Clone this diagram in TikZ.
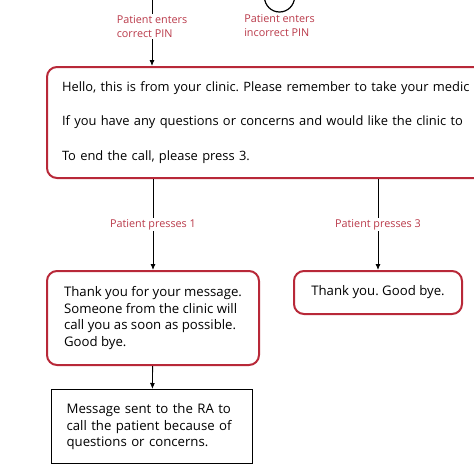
\documentclass[tikz,border=0pt]{standalone}
\usepackage{fontspec}
\setmainfont{Open Sans}
\frenchspacing
\usetikzlibrary{arrows.meta}
\definecolor{clinicred}{RGB}{184,40,56}
\definecolor{labelred}{RGB}{186,58,74}

\begin{document}
\begin{tikzpicture}[x=1pt, y=-1pt,
    msgbox/.style={draw=clinicred, line width=2pt, rounded corners=10pt, fill=white,
      inner xsep=15pt, inner ysep=0pt, font=\fontsize{13.2}{16.7}\selectfont},
    ratask/.style={draw=black, line width=1.2pt, fill=white, inner xsep=15pt, inner ysep=0pt,
      font=\fontsize{13.2}{16.5}\selectfont},
    choice/.style={fill=white, text=labelred, inner sep=1.5pt, align=left,
      font=\fontsize{10.8}{14}\selectfont},
    flow/.style={-{Latex[length=6pt,width=5pt]}, line width=0.9pt}]
  \useasboundingbox (0,0) rectangle (474,474);
  \clip (0,0) rectangle (474,474);

  % PIN check
  \coordinate (entry) at (152,-5);
  \node[draw, circle, line width=1.2pt, minimum size=30] (wrongpin) at (279.5,-3) {};
  \node[choice] (wronglabel) at (279.5,26) {Patient enters\\incorrect PIN};

  % reminder message (runs past the right edge)
  \node[msgbox, anchor=north west, minimum height=111, text width=520, align=left,
    font=\fontsize{12.9}{34.5}\selectfont] (hello) at (46,66)
    {Hello, this is from your clinic. Please remember to take your medic\\
     If you have any questions or concerns and would like the clinic to\\
     To end the call, please press 3.};

  % answers
  \node[msgbox, anchor=north west, minimum width=212, minimum height=94, align=left] (callback) at (46,270)
    {Thank you for your message.\\Someone from the clinic will\\call you as soon as possible.\\Good bye.};
  \node[msgbox, anchor=north west, minimum width=168, minimum height=43] (goodbye) at (293,270)
    {Thank you. Good bye.};
  \node[ratask, anchor=north west, minimum height=74, text width=171, align=left] (notify) at (51,389)
    {Message sent to the RA to\\call the patient because of\\questions or concerns.};

  % connectors
  \draw[flow] (entry) -- (entry |- hello.north) node[choice, pos=0.44] {Patient enters\\correct PIN};
  \draw[flow] (callback.north |- hello.south) -- (callback.north) node[choice, midway] {Patient presses 1};
  \draw[flow] (goodbye.north |- hello.south) -- (goodbye.north) node[choice, midway] {Patient presses 3};
  \draw[flow] (callback) -- (notify);
\end{tikzpicture}
\end{document}
